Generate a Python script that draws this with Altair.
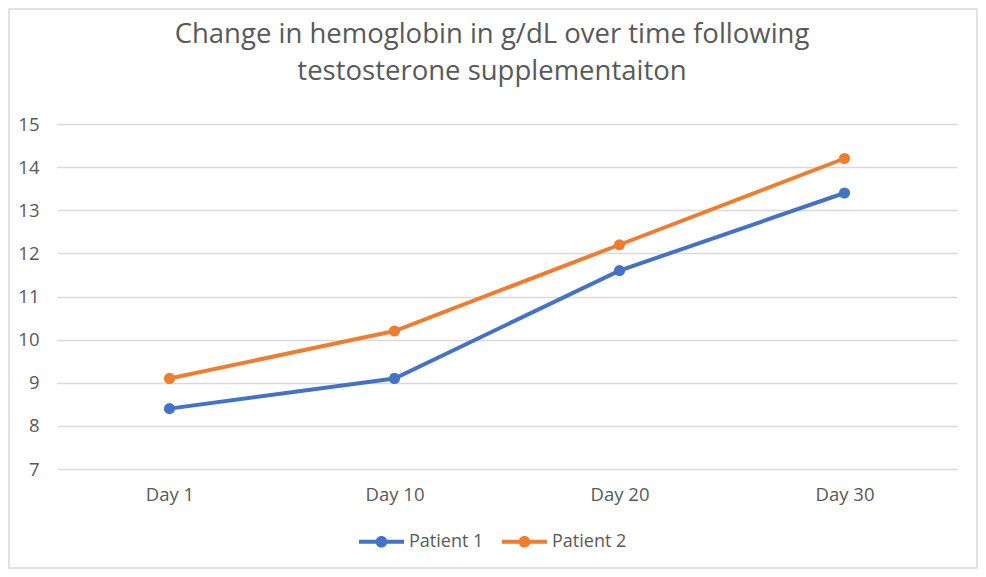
import altair as alt
import pandas as pd

days = ["Day 1", "Day 10", "Day 20", "Day 30"]
patient1 = [8.4, 9.1, 11.6, 13.4]
patient2 = [9.1, 10.2, 12.2, 14.2]
series_names = ["Patient 1", "Patient 2"]
series_colors = ["#4472C4", "#ED7D31"]
y_ticks = [7, 8, 9, 10, 11, 12, 13, 14, 15]
title_lines = ["Change in hemoglobin in g/dL over time following",
               "testosterone supplementaiton"]

rows = []
for name, vals in zip(series_names, [patient1, patient2]):
    for d, v in zip(days, vals):
        rows.append({"Day": d, "Hemoglobin": v, "Series": name})
df = pd.DataFrame(rows)

W, H = 900, 345
PAD_L, PAD_T, TOTAL_W, TOTAL_H = 49, 116, 970, 561
FS = 18.5

legend_path = ("M-1,-0.09 L1,-0.09 L1,0.09 L-1,0.09 Z "
               "M0.26,0 A0.26,0.26 0 1,1 -0.26,0 A0.26,0.26 0 1,1 0.26,0 Z")

color_scale = alt.Scale(domain=series_names, range=series_colors)

legend = alt.Legend(
    title=None,
    orient="none",
    direction="horizontal",
    legendX=302,
    legendY=395,
    symbolType=legend_path,
    symbolSize=2025,
    symbolStrokeWidth=0,
    symbolOpacity=1,
    labelFontSize=18,
    labelColor="#595959",
    labelFont="Open Sans",
    labelOffset=5,
    columnPadding=18,
)

x_enc = alt.X("Day:N", sort=days,
              scale=alt.Scale(type="point", padding=0.5),
              axis=alt.Axis(title=None, labelAngle=0, ticks=False, domain=False,
                            grid=False, labelPadding=16, labelFontSize=FS,
                            labelColor="#595959", labelFont="Open Sans"))
y_enc = alt.Y("Hemoglobin:Q",
              scale=alt.Scale(domain=[7, 15], nice=False, zero=False),
              axis=alt.Axis(title=None, values=y_ticks, ticks=False, domain=False,
                            gridColor="#d9d9d9", gridWidth=1.5, labelPadding=18,
                            labelFontSize=FS, labelColor="#595959",
                            labelFont="Open Sans"))

lines = alt.Chart(df).mark_line(strokeWidth=4).encode(
    x=x_enc, y=y_enc,
    color=alt.Color("Series:N", sort=series_names, scale=color_scale, legend=legend),
)
points = alt.Chart(df).mark_circle(size=125, opacity=1).encode(
    x=x_enc, y=y_enc,
    color=alt.Color("Series:N", sort=series_names, scale=color_scale, legend=legend),
)

border = alt.Chart(pd.DataFrame({"a": [0]})).mark_rect(
    fill=None, stroke="#d9d9d9", strokeWidth=1.5
).encode(
    x=alt.value(-PAD_L + 1), x2=alt.value(TOTAL_W - PAD_L - 1),
    y=alt.value(-PAD_T + 1), y2=alt.value(TOTAL_H - PAD_T - 1),
)

title = alt.Chart(pd.DataFrame({"t": [title_lines]})).mark_text(
    font="Open Sans", fontSize=27.5, color="#595959", align="center",
    baseline="alphabetic", lineHeight=37,
).encode(
    text="t",
    x=alt.value(484 - PAD_L),
    y=alt.value(35 - PAD_T),
)

chart = alt.layer(border, title, lines, points).properties(
    width=W,
    height=H,
    padding={"left": PAD_L, "top": PAD_T, "right": TOTAL_W - PAD_L - W,
             "bottom": TOTAL_H - PAD_T - H},
    autosize=alt.AutoSizeParams(type="none"),
).configure(font="Open Sans").configure_view(stroke="transparent", strokeWidth=0)

chart.save("out.html", embed_options={"renderer": "svg", "actions": False})
